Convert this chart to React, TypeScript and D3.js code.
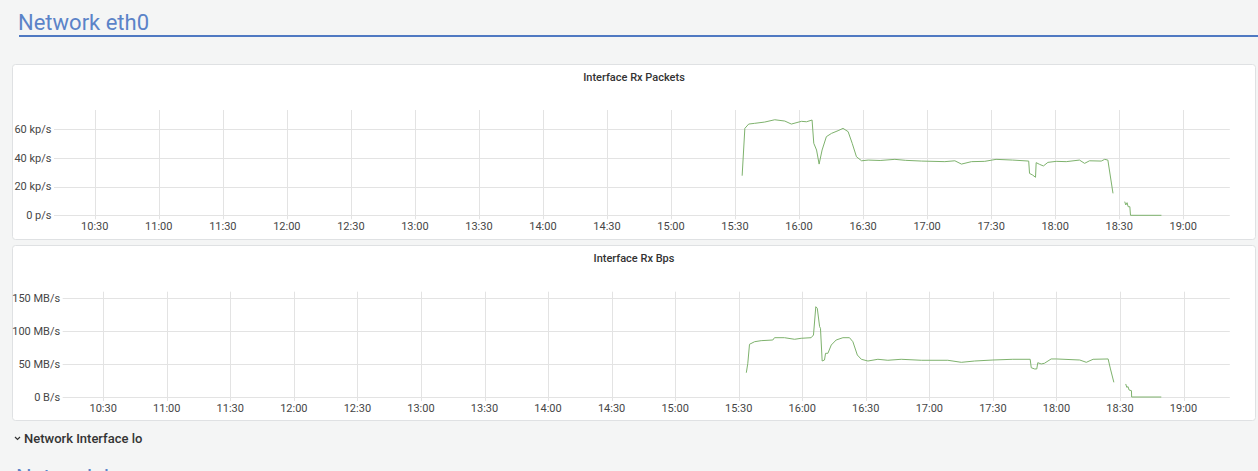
import React from "react";
import * as d3 from "d3";

// ---------- DATA ----------
const pageTitle = "Network eth0";
const nextRowTitle = "Network Interface lo";
const nextSectionTitle = "Network lo";

const panelTitles = ["Interface Rx Packets", "Interface Rx Bps"];

const timeRange = ["10:12:46", "19:21:50"];

// Rx packets (kp/s); null = gap
const rxPacketsTimes = [
  "15:33:20", "15:34:36", "15:36:24", "15:39:12", "15:43:54", "15:48:36", "15:53:18", "15:56:24",
  "16:01:06", "16:03:30", "16:06:06", "16:06:54", "16:08:12", "16:09:24", "16:10:48", "16:12:48",
  "16:15:12", "16:18:18", "16:20:36", "16:23:00", "16:24:54", "16:26:54", "16:29:18", "16:32:24",
  "16:38:00", "16:44:54", "16:50:00", "16:57:24", "17:08:18", "17:13:00", "17:16:06", "17:20:48",
  "17:27:00", "17:32:18", "17:40:06", "17:47:36", "17:48:00", "17:49:30", "17:50:48", "17:51:06",
  "17:52:42", "17:54:30", "17:56:36", "18:00:30", "18:05:12", "18:11:24", "18:13:48", "18:16:06",
  "18:21:36", "18:23:12", "18:24:42", "18:27:06", "18:30:00", "18:32:36", "18:33:06", "18:33:42",
  "18:34:12", "18:35:00", "18:35:18", "18:49:48",
];
const rxPacketsValues = [
  27.6, 60.6, 63.6, 64.1, 65.0, 66.6, 65.7, 63.6,
  65.5, 65.2, 66.4, 50.2, 45.5, 35.7, 45.5, 54.8,
  57.1, 59.0, 60.6, 58.3, 50.2, 40.8, 38.0, 38.5,
  38.2, 39.0, 38.3, 37.8, 37.4, 38.0, 35.7, 37.4,
  37.6, 39.0, 38.5, 37.8, 29.2, 28.0, 26.5, 36.7,
  35.5, 34.4, 36.9, 37.6, 37.4, 38.5, 36.2, 38.0,
  37.8, 39.0, 38.5, 15.3, null, 9.5, 7.2, 8.8,
  6.0, 6.0, 0, 0,
];

// Rx bytes (MB/s); null = gap
const rxBpsTimes = [
  "15:33:36", "15:34:18", "15:35:06", "15:37:30", "15:40:36", "15:46:06", "15:46:54", "15:51:36",
  "15:56:24", "15:59:30", "16:04:12", "16:05:18", "16:06:24", "16:07:06", "16:08:12", "16:08:36",
  "16:09:24", "16:10:30", "16:11:00", "16:12:06", "16:13:42", "16:16:00", "16:19:12", "16:22:18",
  "16:23:54", "16:26:00", "16:27:54", "16:31:00", "16:35:42", "16:40:24", "16:46:42", "16:56:12",
  "17:08:42", "17:15:06", "17:21:24", "17:30:00", "17:39:24", "17:47:36", "17:48:06", "17:49:42",
  "17:50:42", "17:51:12", "17:52:48", "17:54:18", "17:57:30", "18:00:00", "18:11:00", "18:14:06",
  "18:17:18", "18:24:24", "18:25:30", "18:27:06", "18:30:00", "18:32:42", "18:33:12", "18:33:48",
  "18:34:18", "18:35:24", "18:35:30", "18:49:30",
];
const rxBpsValues = [
  36.9, 51.2, 80.1, 84.0, 85.6, 86.6, 90.1, 90.1,
  87.7, 89.2, 90.1, 94.2, 137.2, 134.8, 106.8, 104.4,
  54.7, 56.2, 66.4, 66.4, 79.0, 86.6, 90.1, 90.1,
  84.0, 63.8, 57.3, 54.7, 57.3, 55.8, 57.3, 55.8,
  55.8, 52.7, 54.7, 56.2, 57.3, 57.3, 44.5, 42.6,
  42.6, 52.1, 50.2, 51.2, 57.8, 57.8, 56.2, 52.7,
  57.3, 57.8, 42.6, 22.3, null, 19.8, 14.7, 15.7,
  10.6, 9.6, 0, 0,
];

const rxPacketsTicks = [0, 20, 40, 60];
const rxPacketsTickLabels = ["0 p/s", "20 kp/s", "40 kp/s", "60 kp/s"];
const rxBpsTicks = [0, 50, 100, 150];
const rxBpsTickLabels = ["0 B/s", "50 MB/s", "100 MB/s", "150 MB/s"];

// ---------- HELPERS ----------
const parseT = (s: string) => {
  const [h, m, sec] = s.split(":").map(Number);
  return new Date(2020, 0, 1, h, m, sec || 0);
};

type PanelProps = {
  top: number;
  title: string;
  plotLeft: number;
  plotTop: number;
  plotBottom: number;
  yMax: number;
  times: string[];
  values: (number | null)[];
  ticks: number[];
  tickLabels: string[];
};

const PANEL_X = 12;
const PANEL_W = 1243;
const PANEL_H = 175;
const PLOT_RIGHT = 1229.8;
const GRID = "#e3e3e3";
const TEXT = "#464646";
const LINE = "#7EB26D";

function Panel(p: PanelProps) {
  const x = d3
    .scaleTime()
    .domain([parseT(timeRange[0]), parseT(timeRange[1])])
    .range([p.plotLeft, PLOT_RIGHT]);
  const y = d3.scaleLinear().domain([0, p.yMax]).range([p.plotBottom, p.plotTop]);
  const xTicks = x.ticks(d3.timeMinute.every(30) as any);
  const fmt = d3.timeFormat("%H:%M");
  const data = p.times.map((t, i) => ({ t: parseT(t), v: p.values[i] }));
  const line = d3
    .line<{ t: Date; v: number | null }>()
    .defined((d) => d.v !== null)
    .x((d) => x(d.t))
    .y((d) => y(d.v as number));

  return (
    <g>
      <rect
        x={PANEL_X + 0.5}
        y={p.top + 0.5}
        width={PANEL_W}
        height={PANEL_H}
        rx={3}
        fill="#ffffff"
        stroke="#dfe1e3"
      />
      <text
        x={PANEL_X + PANEL_W / 2 + 0.5}
        y={p.top + 17}
        textAnchor="middle"
        fontFamily="Roboto"
        fontWeight={500}
        fontSize={11}
        fill="#333"
      >
        {p.title}
      </text>
      {xTicks.map((t, i) => (
        <line
          key={"vx" + i}
          x1={Math.round(x(t)) + 0.5}
          x2={Math.round(x(t)) + 0.5}
          y1={p.plotTop}
          y2={p.plotBottom + 4}
          stroke={GRID}
        />
      ))}
      {p.ticks.map((v, i) => (
        <g key={"hy" + i}>
          <line
            x1={p.plotLeft - 4}
            x2={PLOT_RIGHT}
            y1={Math.round(y(v)) + 0.5}
            y2={Math.round(y(v)) + 0.5}
            stroke={GRID}
          />
          <text
            x={p.plotLeft - 6.5}
            y={y(v) + 3.8}
            textAnchor="end"
            fontFamily="Roboto"
            fontSize={11}
            fill={TEXT}
          >
            {p.tickLabels[i]}
          </text>
        </g>
      ))}
      {xTicks.map((t, i) => (
        <text
          key={"xl" + i}
          x={x(t)}
          y={p.plotBottom + 15}
          textAnchor="middle"
          fontFamily="Roboto"
          fontSize={11}
          fill={TEXT}
        >
          {fmt(t)}
        </text>
      ))}
      <path d={line(data) || ""} fill="none" stroke={LINE} strokeWidth={1} />
    </g>
  );
}

export default function App() {
  return (
    <svg
      width={1258}
      height={471}
      style={{ position: "absolute", left: 0, top: 0, display: "block" }}
    >
      <rect x={0} y={0} width={1258} height={471} fill="#f4f5f5" />
      <text x={18} y={30} fontFamily="Roboto" fontSize={22} fill="#5b83c8">
        {pageTitle}
      </text>
      <rect x={19} y={35} width={1239} height={2} fill="#4f79c2" />

      <Panel
        top={64}
        title={panelTitles[0]}
        plotLeft={58}
        plotTop={110}
        plotBottom={215.3}
        yMax={73.4}
        times={rxPacketsTimes}
        values={rxPacketsValues}
        ticks={rxPacketsTicks}
        tickLabels={rxPacketsTickLabels}
      />
      <Panel
        top={245}
        title={panelTitles[1]}
        plotLeft={66.7}
        plotTop={291.7}
        plotBottom={397}
        yMax={160}
        times={rxBpsTimes}
        values={rxBpsValues}
        ticks={rxBpsTicks}
        tickLabels={rxBpsTickLabels}
      />

      <path d="M15,437 L17.5,439.5 L20,437" fill="none" stroke="#333" strokeWidth={1.2} />
      <text x={24} y={443} fontFamily="Roboto" fontWeight={500} fontSize={13} fill="#333">
        {nextRowTitle}
      </text>
      <text x={16} y={485} fontFamily="Roboto" fontSize={22} fill="#5b83c8">
        {nextSectionTitle}
      </text>
    </svg>
  );
}
